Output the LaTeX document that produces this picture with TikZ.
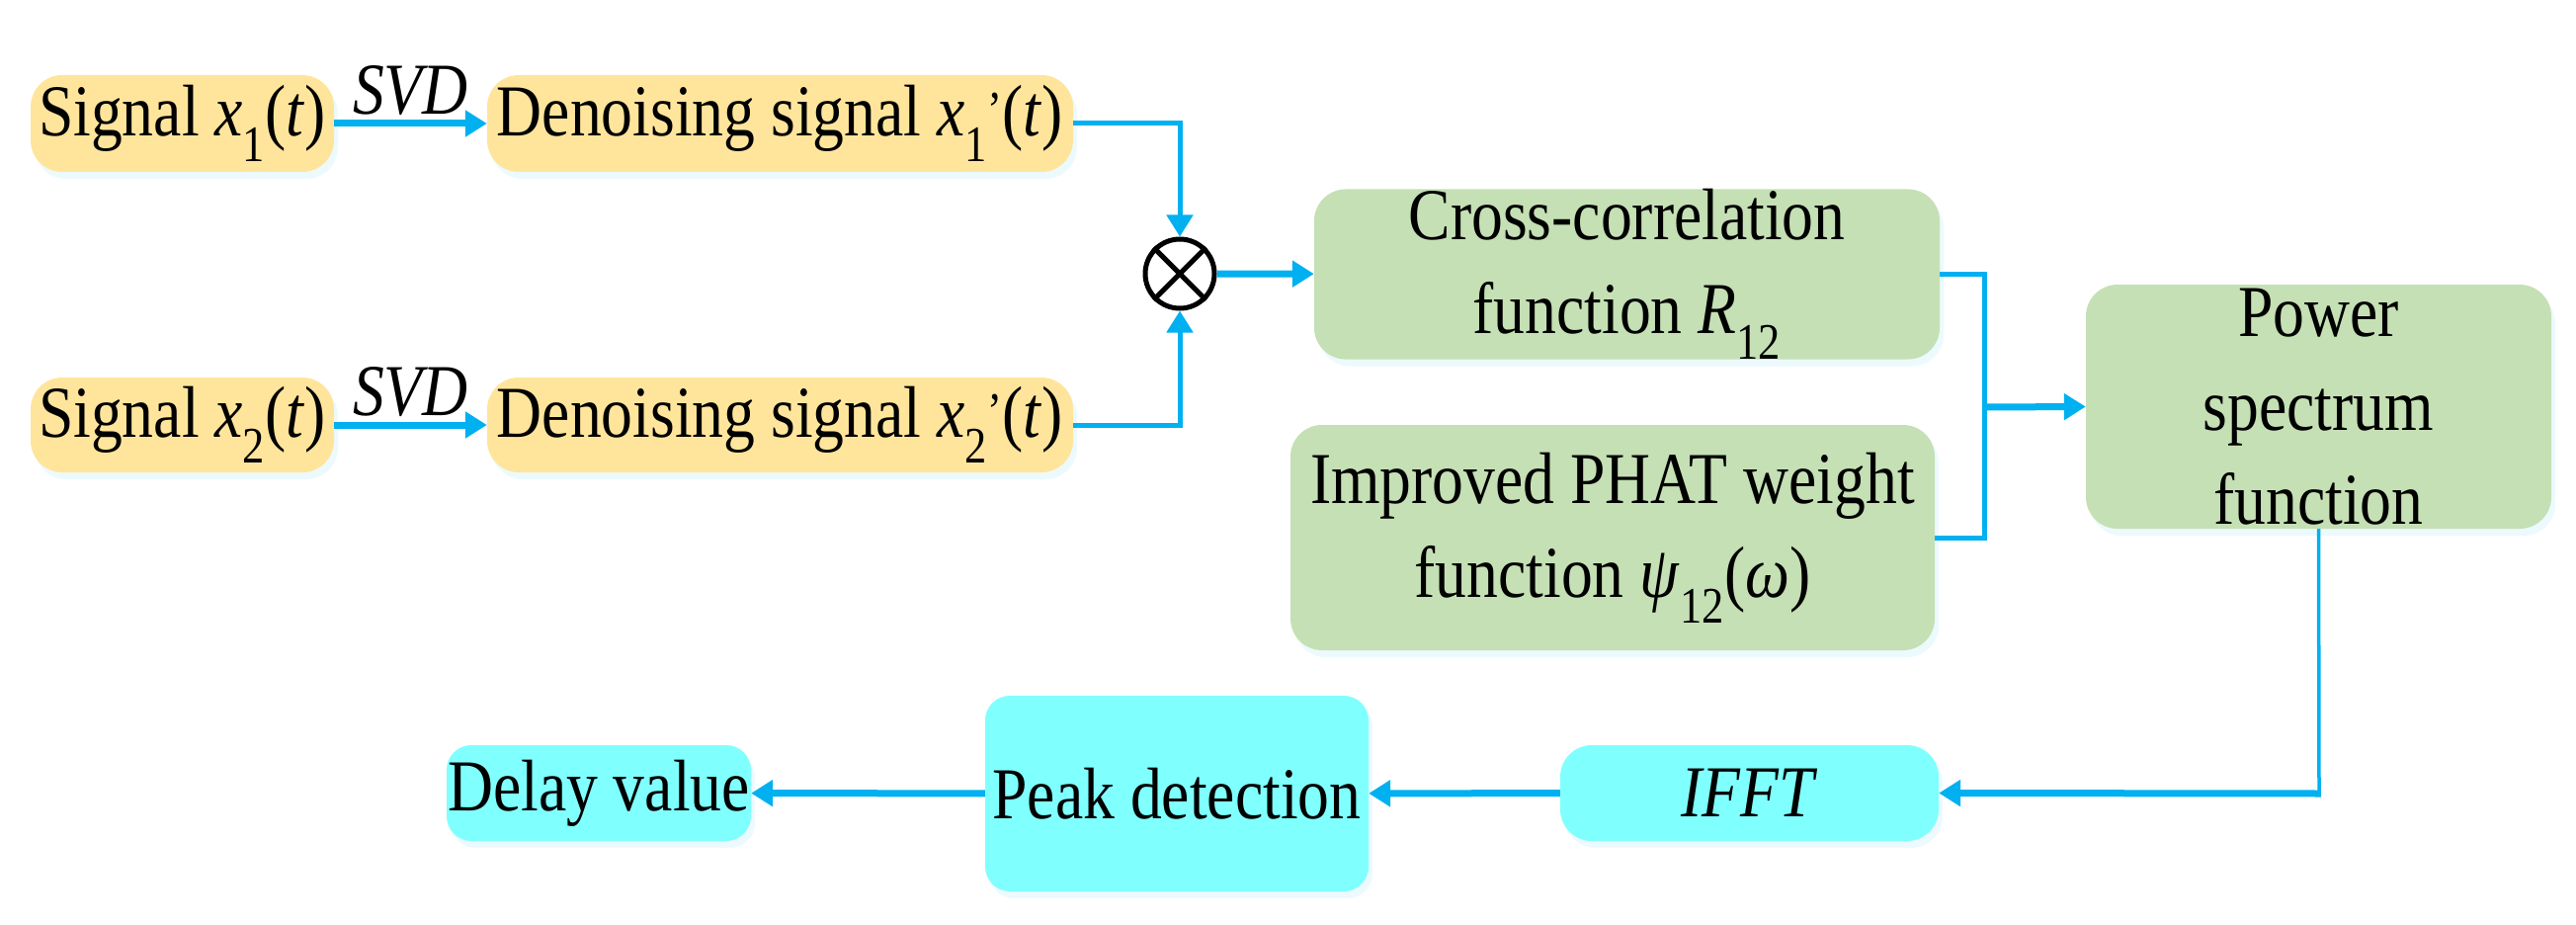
\documentclass[tikz,border=0pt]{standalone}
\usepackage{fontspec}
\setmainfont{Liberation Serif}[FakeStretch=0.86]
\usetikzlibrary{arrows.meta,shadows}
\definecolor{yel}{HTML}{FFE59C}
\definecolor{grn}{HTML}{C5E0B4}
\definecolor{cyn}{HTML}{80FFFF}
\definecolor{arr}{HTML}{00B0F0}
\newcommand\xsig[1]{\textit{x}\textsubscript{#1}(\textit{t})}
\newcommand\xden[1]{\textit{x}\textsubscript{#1}\textsuperscript{'}(\textit{t})}
\begin{document}
\begin{tikzpicture}[x=1pt,y=-1pt,
  box/.style={rounded corners=32pt,draw=none,inner sep=0pt,align=center,
    font=\fontsize{74}{95}\selectfont,
    drop shadow={fill=arr!12,shadow xshift=4pt,shadow yshift=-7pt,opacity=0.6}},
  yb/.style={box,fill=yel},
  gb/.style={box,fill=grn},
  cb/.style={box,fill=cyn},
  ar/.style={draw=arr,line width=7pt,-{Triangle[length=22pt,width=26pt]}},
  ln/.style={draw=arr,line width=5pt},
  lbl/.style={font=\fontsize{74}{80}\selectfont\itshape}]
\useasboundingbox (0,0) rectangle (2607,936);
\node[yb,minimum width=307pt,minimum height=98pt] (s1) at (184.5,125) {Signal \xsig{1}};
\node[yb,minimum width=593pt,minimum height=98pt] (d1) at (789.5,125) {Denoising signal \xden{1}};
\node[yb,minimum width=307pt,minimum height=96pt] (s2) at (184.5,430) {Signal \xsig{2}};
\node[yb,minimum width=593pt,minimum height=96pt] (d2) at (789.5,430) {Denoising signal \xden{2}};
\node[circle,draw=black,line width=5pt,minimum size=70pt,inner sep=0pt] (c) at (1194,277) {};
\draw[line width=5pt] (c.north west) -- (c.south east) (c.north east) -- (c.south west);
\node[gb,minimum width=633pt,minimum height=169pt] (cc) at (1646.5,277.5) {Cross-correlation\\function \textit{R}\textsubscript{12}};
\node[gb,minimum width=652pt,minimum height=228pt] (ph) at (1632,544) {Improved PHAT weight\\function \textit{ψ}\textsubscript{12}(\textit{ω})};
\node[gb,minimum width=471pt,minimum height=247pt] (pw) at (2346.5,411.5) {Power\\spectrum\\function};
\node[cb,minimum width=383pt,minimum height=97pt] (ifft) at (1770.5,802.5) {\textit{IFFT}};
\node[cb,minimum width=388pt,minimum height=198pt,rounded corners=25pt] (peak) at (1191,803) {Peak detection};
\node[cb,minimum width=308pt,minimum height=97pt,rounded corners=25pt] (dv) at (606,802.5) {Delay value};
\draw[ar] (s1) -- (d1) node[midway,above=2pt,lbl] {SVD};
\draw[ar] (s2) -- (d2) node[midway,above=2pt,lbl] {SVD};
\draw[ar,line width=5pt] (d1.east) -| (c.north);
\draw[ar,line width=5pt] (d2.east) -| (c.south);
\draw[ar] (c) -- (cc);
\coordinate (j) at (2008,412);
\draw[ln] (cc.east) -| (j);
\draw[ln] (ph.east) -| (j);
\draw[ar] (j) -- (pw.west);
\coordinate (k) at (2347,803);
\draw[draw=arr,line width=3.5pt] (pw.south) -- (k);
\draw[ar] ([xshift=1.75pt]k) -- (ifft.east);
\draw[ar] (ifft) -- (peak);
\draw[ar] (peak) -- (dv);
\end{tikzpicture}
\end{document}
